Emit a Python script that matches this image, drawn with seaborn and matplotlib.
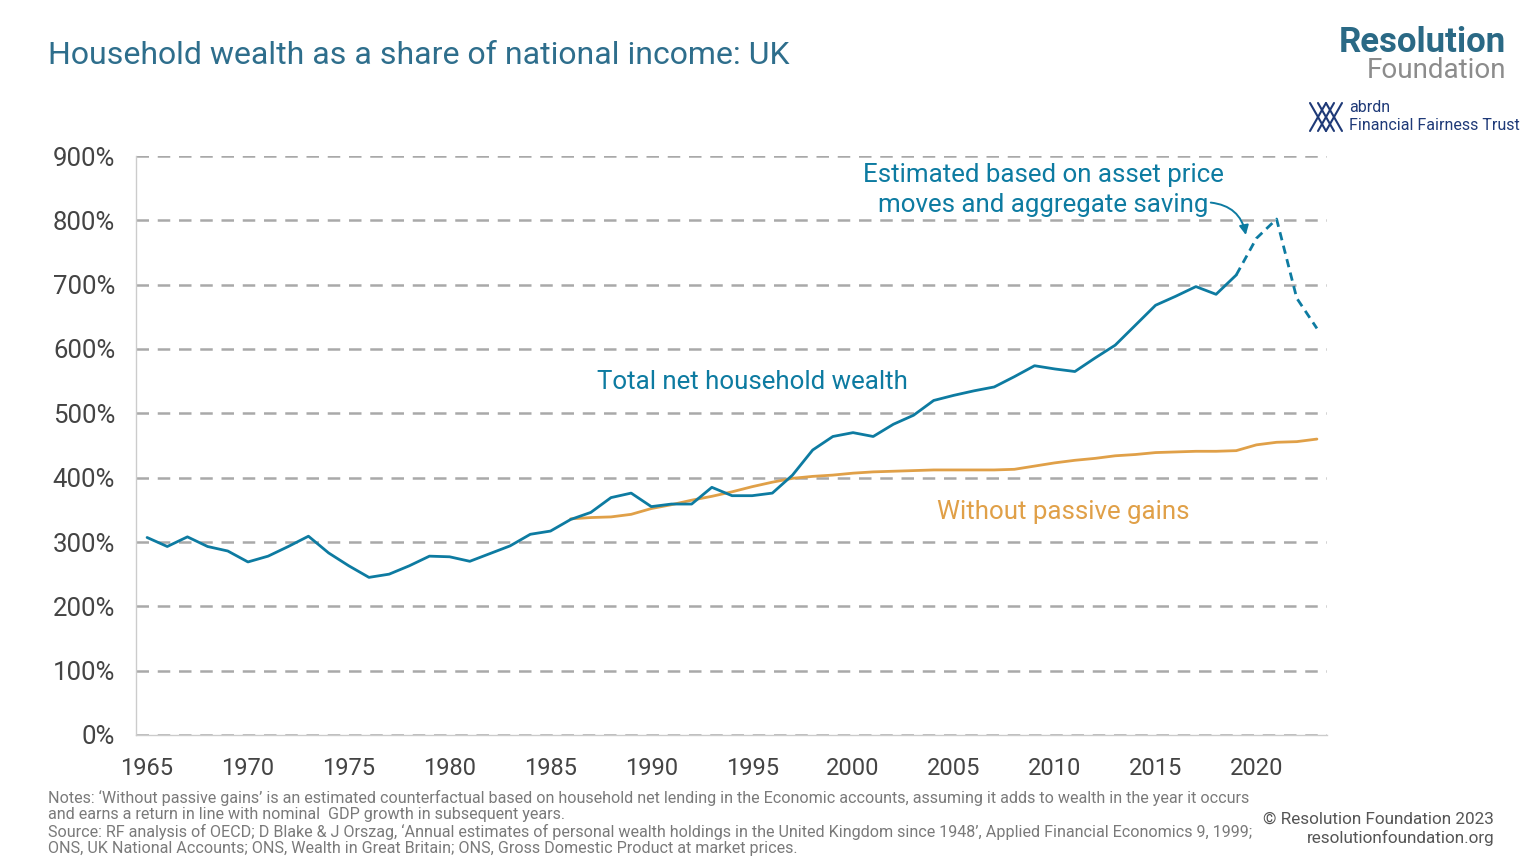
import matplotlib
matplotlib.use("Agg")
import matplotlib.pyplot as plt
import seaborn as sns
import pandas as pd

sns.set_theme(style="white")
plt.rcParams['font.family'] = ['Roboto', 'DejaVu Sans']

# total net household wealth, % of national income (solid up to 2019, estimated after)
years = list(range(1965, 2020))
wealth = [307, 293, 308, 293, 286, 269, 278, 293, 309, 283,
          263, 245, 250, 263, 278, 277, 270, 282, 294, 312,
          317, 335, 346, 369, 376, 355, 359, 359, 385, 372,
          372, 376, 404, 443, 464, 470, 464, 483, 497, 520,
          528, 535, 541, 557, 574, 569, 565, 586, 606, 637,
          668, 682, 697, 685, 715]
est_years = [2019, 2020, 2021, 2022, 2023]
est_wealth = [715, 772, 802, 679, 632]

# counterfactual without passive gains
cf_years = list(range(1986, 2024))
cf_wealth = [336, 338, 339, 343, 352, 358, 365, 371, 378, 386,
             393, 399, 402, 404, 407, 409, 410, 411, 412, 412,
             412, 412, 413, 418, 423, 427, 430, 434, 436, 439,
             440, 441, 441, 442, 451, 455, 456, 460]

x_ticks = list(range(1965, 2021, 5))
y_ticks = list(range(0, 1000, 100))

blue = "#0d7ba1"
orange = "#e0a048"
title_col = "#2e6e8c"
tick_col = "#444444"

df_w = pd.DataFrame({"year": years, "value": wealth})
df_e = pd.DataFrame({"year": est_years, "value": est_wealth})
df_c = pd.DataFrame({"year": cf_years, "value": cf_wealth})

fig = plt.figure(figsize=(15.36, 8.64), dpi=100)
ax = fig.add_axes([136/1536, 1-735/864, (1327-136)/1536, (735-156)/864])

sns.lineplot(data=df_c, x="year", y="value", ax=ax, color=orange, linewidth=2.0)
sns.lineplot(data=df_w, x="year", y="value", ax=ax, color=blue, linewidth=2.0)
sns.lineplot(data=df_e, x="year", y="value", ax=ax, color=blue, linewidth=2.0,
             linestyle=(0, (3, 2)))

ax.set_xlim(1964.45, 2023.5)
ax.set_ylim(0, 900)
ax.set_xticks(x_ticks)
ax.set_yticks(y_ticks)
ax.set_yticklabels([f"{v}%" for v in y_ticks])
ax.set_xlabel("")
ax.set_ylabel("")

ax.grid(axis="y", color="#a9a9a9", linestyle=(0, (5, 3.5)), linewidth=1.8)
ax.grid(axis="x", visible=False)
ax.set_axisbelow(True)
for s in ["top", "right"]:
    ax.spines[s].set_visible(False)
for s in ["left", "bottom"]:
    ax.spines[s].set_color("#cccccc")
    ax.spines[s].set_linewidth(1.0)

ax.tick_params(axis="x", direction="out", length=6, width=1, color="#cccccc",
               labelsize=17, labelcolor=tick_col, pad=10)
ax.tick_params(axis="y", direction="inout", length=10, width=1, color="#cccccc",
               labelsize=18.5, labelcolor=tick_col, pad=10)

ax.text(1995.03, 549, "Total net household wealth", color=blue, fontsize=18.6,
        ha="center", va="center")
ax.text(2010.4, 347, "Without passive gains", color=orange, fontsize=18.6,
        ha="center", va="center")
ax.text(2009.45, 847, "Estimated based on asset price\nmoves and aggregate saving",
        color=blue, fontsize=18.6, ha="center", va="center", linespacing=1.35)
ax.annotate("", xy=(2019.5, 773), xytext=(2017.6, 828),
            arrowprops=dict(arrowstyle="-|>", color=blue, lw=1.4,
                            connectionstyle="arc3,rad=-0.4", mutation_scale=14))

fig.text(48/1536, 1-55/864, "Household wealth as a share of national income: UK",
         color=title_col, fontsize=23, ha="left", va="center")

# logo block
fig.text(1506/1536, 1-43/864, "Resolution", color="#2a6985", fontsize=25,
         fontweight="bold", ha="right", va="center")
fig.text(1506/1536, 1-71/864, "Foundation", color="#8c8c8c", fontsize=20,
         ha="right", va="center")
fig.text(1349/1536, 1-107/864, "abrdn", color="#1f3a78", fontsize=11.5,
         ha="left", va="center")
fig.text(1349/1536, 1-125/864, "Financial Fairness Trust", color="#1f3a78",
         fontsize=11.5, ha="left", va="center")
for off in [-8, 0, 8]:
    fig.lines.append(plt.Line2D([(1318+off)/1536, (1334+off)/1536],
                                [1-103/864, 1-131/864], transform=fig.transFigure,
                                color="#1f3a78", lw=1.5))
    fig.lines.append(plt.Line2D([(1318+off)/1536, (1334+off)/1536],
                                [1-131/864, 1-103/864], transform=fig.transFigure,
                                color="#1f3a78", lw=1.5))

notes = ("Notes: \u2018Without passive gains\u2019 is an estimated counterfactual based on household net lending in the Economic accounts, assuming it adds to wealth in the year it occurs\n"
         "and earns a return in line with nominal  GDP growth in subsequent years.\n"
         "Source: RF analysis of OECD; D Blake & J Orszag, \u2018Annual estimates of personal wealth holdings in the United Kingdom since 1948\u2019, Applied Financial Economics 9, 1999;\n"
         "ONS, UK National Accounts; ONS, Wealth in Great Britain; ONS, Gross Domestic Product at market prices.")
fig.text(48/1536, 1-790/864, notes, color="#7a7a7a", fontsize=11.6, ha="left",
         va="top", linespacing=1.12)
fig.text(1494/1536, 1-829/864, "\u00a9 Resolution Foundation 2023\nresolutionfoundation.org",
         color="#555555", fontsize=12.3, ha="right", va="center", linespacing=1.25)

fig.savefig("out.png", dpi=100)
